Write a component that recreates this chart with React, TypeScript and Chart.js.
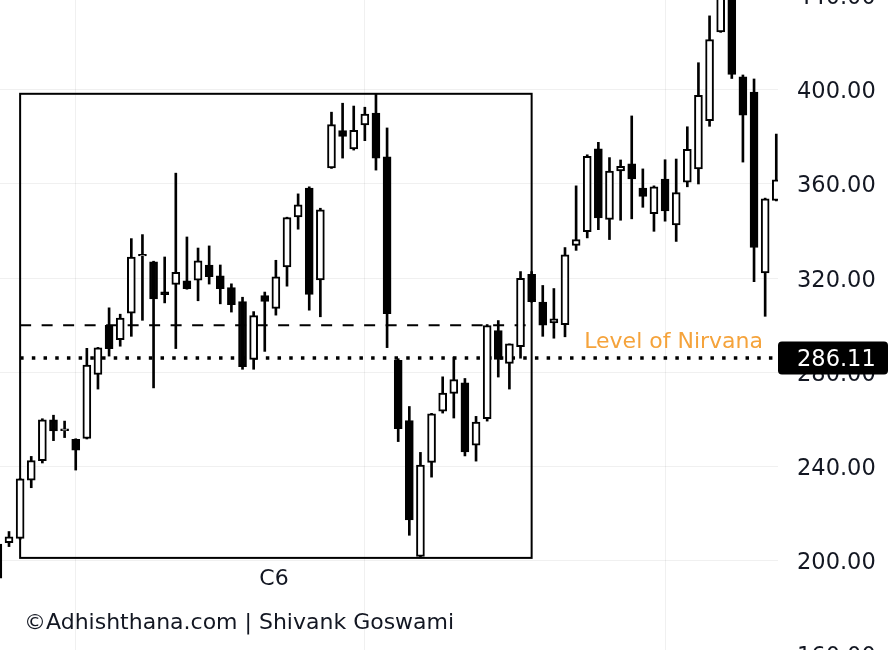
import React, { useEffect, useRef } from 'react';
import { Chart, registerables } from 'chart.js';
Chart.register(...registerables);

const OPEN = [
  207.1, 207.7, 209.5, 234.2, 242.5, 259.8, 255.2, 251.6, 251.9, 279.1,
  300.0, 293.9, 305.1, 329.4, 326.9, 314.2, 317.3, 318.9, 319.2, 325.6,
  321.0, 316.0, 310.1, 285.5, 312.6, 307.1, 324.8, 346.0, 358.3, 319.3,
  366.8, 382.7, 374.9, 385.1, 390.1, 371.5, 285.1, 259.5, 201.8, 241.8,
  263.5, 271.0, 275.6, 249.1, 260.3, 297.7, 283.8, 290.9, 321.6, 309.8,
  301.0, 300.2, 333.9, 339.8, 374.9, 344.9, 365.6, 368.6, 358.3, 347.4,
  362.1, 342.6, 360.8, 366.4, 386.9, 424.6, 443.0, 405.5, 399.0, 322.2,
  353.0,
];
const HIGH = [
  208.1, 212.4, 235.0, 244.3, 260.3, 261.8, 259.3, 251.8, 290.2, 290.6,
  307.4, 304.7, 336.8, 338.5, 327.2, 329.0, 364.6, 337.5, 332.8, 333.7,
  325.6, 317.6, 311.9, 305.8, 314.1, 327.6, 345.9, 355.8, 358.8, 349.7,
  390.5, 394.3, 393.1, 392.6, 398.3, 383.8, 285.8, 265.5, 246.0, 262.6,
  278.1, 286.5, 277.4, 261.3, 300.3, 302.0, 292.1, 322.8, 322.8, 316.9,
  315.6, 333.0, 359.2, 372.4, 377.7, 371.2, 370.2, 388.9, 366.4, 359.2,
  370.3, 370.6, 384.3, 411.5, 431.4, 447.0, 446.0, 406.3, 404.6, 354.0,
  381.2,
];
const LOW = [
  190.7, 206.0, 209.1, 231.0, 241.5, 251.0, 252.3, 238.5, 251.7, 272.9,
  286.9, 291.1, 295.3, 302.1, 273.4, 309.5, 290.1, 315.3, 310.4, 317.5,
  309.1, 305.6, 281.3, 281.3, 288.9, 304.3, 316.6, 340.8, 306.4, 303.6,
  366.6, 371.0, 374.4, 378.4, 365.9, 290.5, 250.6, 210.8, 201.2, 235.5,
  262.7, 260.6, 244.5, 242.3, 259.3, 278.0, 272.9, 286.0, 309.8, 295.3,
  294.5, 295.1, 331.8, 337.1, 340.6, 336.4, 344.6, 345.2, 350.1, 339.9,
  344.2, 335.6, 358.8, 360.0, 384.5, 424.4, 404.8, 369.3, 318.5, 303.8,
  352.8,
];
const CLOSE = [
  192.6, 210.1, 234.8, 242.5, 259.8, 255.1, 256.0, 247.0, 283.1, 290.4,
  290.1, 303.0, 329.0, 330.1, 311.2, 313.0, 322.5, 315.5, 327.4, 320.6,
  315.5, 308.7, 282.4, 304.1, 310.1, 320.6, 345.7, 351.1, 313.1, 349.0,
  385.2, 380.2, 382.8, 389.7, 371.0, 304.9, 256.1, 217.3, 240.6, 262.4,
  271.2, 276.9, 246.2, 258.9, 299.9, 285.5, 292.1, 319.9, 310.0, 300.0,
  302.7, 329.9, 336.4, 371.7, 345.6, 365.5, 367.5, 362.1, 354.7, 358.8,
  348.6, 356.4, 374.7, 397.6, 421.3, 444.0, 406.5, 389.2, 333.1, 353.7,
  361.8,
];

const Y_TICKS = [160, 200, 240, 280, 320, 360, 400, 440];
const X_GRID = [7, 33, 60];
const BOX_START = 2;
const BOX_END = 48;
const DASH_LEVEL = 300;
const LAST_PRICE = 286.11;
const LEVEL_LABEL = 'Level of Nirvana';
const X_LABEL = 'C6';
const CREDIT = '\u00A9Adhishthana.com | Shivank Goswami';

const FONT = '"DejaVu Sans", sans-serif';
const TOP_OFFSET = 60;

export default function App() {
  const ref = useRef<HTMLCanvasElement | null>(null);

  useEffect(() => {
    const canvas = ref.current;
    if (!canvas) return;

    const annotations = {
      id: 'annotations',
      beforeDatasetsDraw(chart: any) {
        const { ctx, chartArea } = chart;
        const x = chart.scales.x;
        const y = chart.scales.y;
        const hiBox = Math.max(...HIGH.slice(BOX_START, BOX_END + 1));
        const loBox = Math.min(...LOW.slice(BOX_START, BOX_END + 1));
        const x1 = x.getPixelForValue(BOX_START);
        const x2 = x.getPixelForValue(BOX_END);
        ctx.save();
        ctx.strokeStyle = '#000';
        ctx.lineWidth = 2;
        ctx.strokeRect(x1, y.getPixelForValue(hiBox), x2 - x1, y.getPixelForValue(loBox) - y.getPixelForValue(hiBox));
        ctx.setLineDash([11, 10.5]);
        ctx.beginPath();
        const yd = y.getPixelForValue(DASH_LEVEL);
        ctx.moveTo(x1, yd);
        ctx.lineTo(x2, yd);
        ctx.stroke();
        ctx.setLineDash([3.5, 8.2]);
        ctx.lineWidth = 3.5;
        ctx.beginPath();
        const yp = y.getPixelForValue(LAST_PRICE);
        ctx.moveTo(x1, yp);
        ctx.lineTo(chartArea.right, yp);
        ctx.stroke();
        ctx.restore();
      },
      afterDraw(chart: any) {
        const { ctx, chartArea } = chart;
        const y = chart.scales.y;
        const yp = y.getPixelForValue(LAST_PRICE);
        ctx.save();
        ctx.fillStyle = '#f5a33b';
        ctx.font = `22px ${FONT}`;
        ctx.textAlign = 'right';
        ctx.textBaseline = 'alphabetic';
        ctx.fillText(LEVEL_LABEL, chartArea.right - 15, yp - 10);
        ctx.fillStyle = '#000';
        ctx.beginPath();
        (ctx as any).roundRect(chartArea.right, yp - 16.5, 110, 33, 4);
        ctx.fill();
        ctx.fillStyle = '#fff';
        ctx.font = `22.5px ${FONT}`;
        ctx.textAlign = 'left';
        ctx.textBaseline = 'middle';
        ctx.fillText(LAST_PRICE.toFixed(2), chartArea.right + 19, yp + 2.5);
        ctx.fillStyle = '#131722';
        ctx.font = `22px ${FONT}`;
        ctx.textAlign = 'center';
        ctx.fillText(X_LABEL, 274, 579 + TOP_OFFSET);
        ctx.textAlign = 'left';
        ctx.fillText(CREDIT, 24, 623 + TOP_OFFSET);
        ctx.restore();
      },
    };

    const chart = new Chart(canvas, {
      type: 'bar',
      data: {
        datasets: [
          {
            label: 'body',
            order: 0,
            data: OPEN.map((o, i) => ({ x: i, y: [o, CLOSE[i]] })) as any,
            backgroundColor: (c: any) => (CLOSE[c.dataIndex] >= OPEN[c.dataIndex] ? '#ffffff' : '#000000'),
            borderColor: '#000000',
            borderWidth: 2,
            borderSkipped: false,
            barThickness: 8,
            grouped: false,
          } as any,
          {
            label: 'wick',
            order: 1,
            data: LOW.map((l, i) => ({ x: i, y: [l, HIGH[i]] })) as any,
            backgroundColor: '#000000',
            borderWidth: 0,
            barThickness: 2,
            grouped: false,
          } as any,
        ],
      },
      options: {
        responsive: false,
        animation: false,
        devicePixelRatio: 1,
        events: [],
        layout: { padding: 0 },
        plugins: { legend: { display: false }, tooltip: { enabled: false } },
        scales: {
          x: {
            type: 'linear',
            min: 0.19,
            max: 70.155,
            offset: false,
            afterBuildTicks: (s: any) => {
              s.ticks = X_GRID.map((v) => ({ value: v }));
            },
            afterFit: (s: any) => {
              s.height = 0;
              s.paddingLeft = 0;
              s.paddingRight = 0;
            },
            ticks: { display: false },
            grid: { color: 'rgba(0,0,0,0.06)', drawTicks: false, offset: false },
            border: { display: false },
          },
          y: {
            type: 'linear',
            position: 'right',
            min: 136.6,
            max: 463.62,
            afterBuildTicks: (s: any) => {
              s.ticks = Y_TICKS.map((v) => ({ value: v }));
            },
            afterFit: (s: any) => {
              s.width = 114;
              s.paddingTop = 0;
              s.paddingBottom = 0;
            },
            ticks: {
              padding: 19,
              labelOffset: 2.5,
              color: '#131722',
              font: { family: FONT, size: 22.5 },
              autoSkip: false,
              callback: (v: any) => Number(v).toFixed(2),
            },
            grid: { color: 'rgba(0,0,0,0.06)', drawTicks: false },
            border: { display: false },
          },
        },
      } as any,
      plugins: [annotations],
    });
    return () => chart.destroy();
  }, []);

  return (
    <div style={{ position: 'fixed', left: 0, top: 0, width: 892, height: 650, overflow: 'hidden', background: '#fff' }}>
      <canvas
        ref={ref}
        width={892}
        height={650 + 2 * TOP_OFFSET}
        style={{ position: 'absolute', left: 0, top: -TOP_OFFSET, width: 892, height: 650 + 2 * TOP_OFFSET }}
      />
    </div>
  );
}
